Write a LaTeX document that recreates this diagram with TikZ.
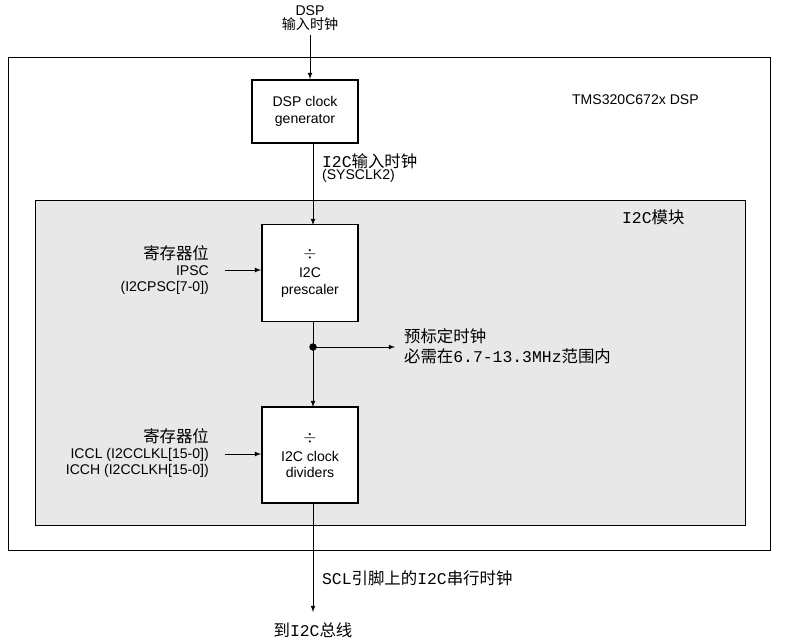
\documentclass[tikz,border=0pt]{standalone}
\usepackage{fontspec}
\setmainfont{Liberation Sans}
\newfontfamily\cjk{Noto Sans CJK SC}
\newfontfamily\mono{Liberation Mono}
\usetikzlibrary{positioning}

\begin{document}
\begin{tikzpicture}[x=0.03cm,y=-0.03cm,
    blk/.style={draw, line width=1.6pt, fill=white, align=center, font=\fontsize{12}{14}\selectfont},
    lbl/.style={align=right, anchor=east, font=\fontsize{12}{14}\selectfont},
    zh/.style={font=\cjk\fontsize{14}{17}\selectfont},
    sig/.style={-latex, line width=0.8pt}]
        \useasboundingbox (0,0) rectangle (786,642);

        % frames
        \draw[line width=0.8pt] (8,57) rectangle (770,550);
        \draw[line width=0.8pt, fill=black!9] (35,200) rectangle (745,525);
        \node[anchor=west, font=\fontsize{12}{14}\selectfont] at (568,100) {TMS320C672x DSP};
        \node[anchor=west, zh] at (618,217) {{\mono I2C}模块};

        % blocks
        \node[blk, minimum width=3.18cm, minimum height=1.89cm] (gen) at (305,111.5) {DSP clock\\generator};
        \node[blk, minimum width=2.88cm, minimum height=2.91cm] (pre) at (310,273) {\Large$\div$\\[2pt]I2C\\prescaler};
        \node[blk, minimum width=2.88cm, minimum height=2.88cm] (div) at (310,455) {\Large$\div$\\[2pt]I2C clock\\dividers};

        % clock path
        \node[align=center, font=\fontsize{12}{14}\selectfont] (dsp) at (310,18) {DSP\\[-2pt]{\cjk 输入时钟}};
        \draw[sig] (dsp) -- (dsp |- gen.north);
        \draw[sig] (gen.south -| 313,0) -- (313,225);
        \node[anchor=west, align=left] at (318,168) {{\cjk\fontsize{14}{17}\selectfont{\mono I2C}输入时钟}\\[-1pt]\fontsize{12}{14}\selectfont(SYSCLK2)};

        \coordinate (tap) at (313,347);
        \draw[sig] (313,322) -- (313,407);
        \fill (tap) circle (3.2pt);
        \coordinate (tapend) at (395,347);
        \draw[sig] (tap) -- (tapend);
        \node[anchor=west, align=left, zh] at (400,346) {预标定时钟\\必需在{\mono 6.7-13.3MHz}范围内};

        % registers
        \node[lbl] (psc) at (213,270) {{\cjk\fontsize{14}{17}\selectfont 寄存器位}\\IPSC\\(I2CPSC[7-0])};
        \draw[sig] (225,270) -- (pre.west |- 0,270);
        \node[lbl] (ccl) at (213,453) {{\cjk\fontsize{14}{17}\selectfont 寄存器位}\\ICCL (I2CCLKL[15-0])\\ICCH (I2CCLKH[15-0])};
        \draw[sig] (225,454) -- (div.west |- 0,454);

        % output
        \coordinate (bus) at (313,612);
        \draw[sig] (313,503) -- (bus);
        \node[anchor=west, zh] at (318,578) {{\mono SCL}引脚上的{\mono I2C}串行时钟};
        \node[zh] at (313,630) {到{\mono I2C}总线};
\end{tikzpicture}
\end{document}
